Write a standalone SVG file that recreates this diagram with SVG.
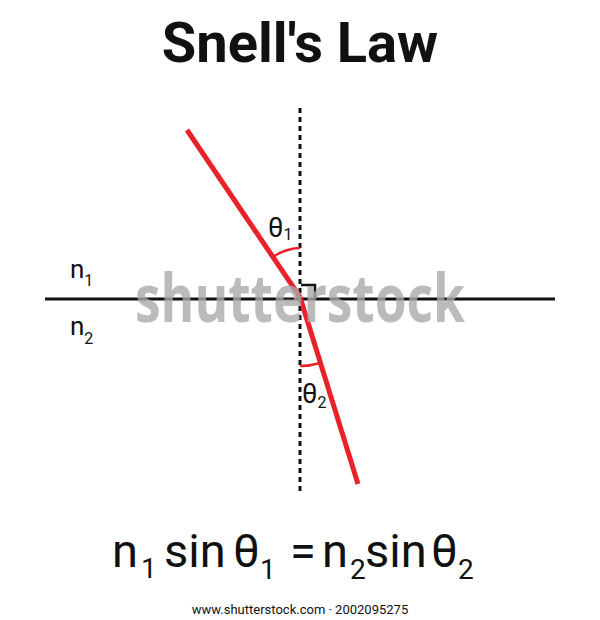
<svg xmlns="http://www.w3.org/2000/svg" width="600" height="620" viewBox="0 0 600 620">
<style>
.t{font-family:Roboto,"Liberation Sans",sans-serif;fill:#111}
.eq{font-size:47px}
.sub{font-size:28px}
.ray{stroke:#e8212a;stroke-width:5;fill:none;stroke-linecap:butt}
.arc{stroke:#e8212a;stroke-width:2.5;fill:none}
</style>
<rect width="600" height="620" fill="#fff"/>
<text class="t" x="300" y="62" text-anchor="middle" font-size="56" font-weight="bold" fill="#000">Snell's Law</text>
<g id="connectors">
<line x1="45" y1="299" x2="555" y2="299" stroke="#111" stroke-width="3"/>
<line x1="300" y1="108" x2="300" y2="492" stroke="#111" stroke-width="3" stroke-dasharray="5,4"/>
<polyline points="301,285 315,285 315,298" stroke="#111" stroke-width="2.5" fill="none"/>
</g>
<g id="incident">
<line class="ray" x1="187" y1="130" x2="300" y2="297"/>
<path class="arc" d="M273,257 A50,50 0 0 1 300,248"/>
</g>
<g id="refracted">
<line class="ray" x1="300" y1="297" x2="358" y2="484"/>
<path class="arc" d="M300,366 A68,68 0 0 0 320,363"/>
</g>
<g id="labels">
<text class="t" x="268" y="237" font-size="27">θ<tspan font-size="16" dy="3">1</tspan></text>
<text class="t" x="302" y="403" font-size="27">θ<tspan font-size="16" dy="5">2</tspan></text>
<text class="t" x="70" y="278" font-size="26">n<tspan font-size="16" dy="8">1</tspan></text>
<text class="t" x="70" y="335" font-size="26">n<tspan font-size="16" dy="9">2</tspan></text>
</g>
<g id="equation">
<text class="t eq" x="112" y="567">n</text>
<text class="t sub" x="141" y="578">1</text>
<text class="t eq" x="164" y="567">sin</text>
<text class="t eq" x="233" y="567">θ</text>
<text class="t sub" x="260" y="579">1</text>
<text class="t eq" x="290" y="567">=</text>
<text class="t eq" x="322" y="567">n</text>
<text class="t sub" x="350" y="579">2</text>
<text class="t eq" x="365" y="567">sin</text>
<text class="t eq" x="431" y="567">θ</text>
<text class="t sub" x="458" y="579">2</text>
</g>
<text x="300" y="322" text-anchor="middle" font-family="'Open Sans','Liberation Sans',sans-serif" font-weight="bold" font-size="66" textLength="330" lengthAdjust="spacingAndGlyphs" fill="#aaa" fill-opacity="0.8">shutterstock</text>
<text class="t" x="300" y="614" text-anchor="middle" font-size="13">www.shutterstock.com · 2002095275</text>
</svg>
